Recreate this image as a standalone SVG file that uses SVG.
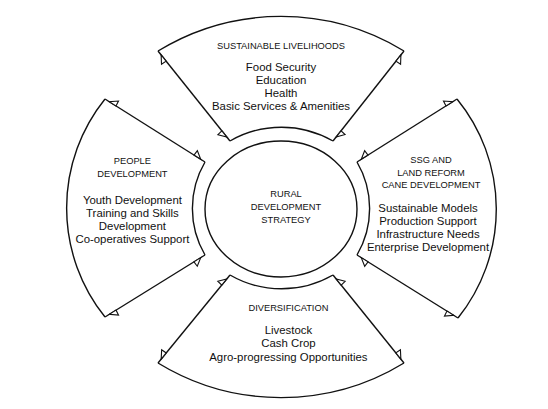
<svg xmlns="http://www.w3.org/2000/svg" width="548" height="409" viewBox="0 0 548 409">
  <style>
    .shape { fill: none; stroke: #111; stroke-width: 1.4; }
    .edge { fill: none; stroke: #111; stroke-width: 1.4; }
    .title { font-family: "Liberation Sans", Arial, sans-serif; font-size: 9.3px; fill: #111; text-anchor: middle; }
    .item { font-family: "Liberation Sans", Arial, sans-serif; font-size: 11.4px; fill: #111; text-anchor: middle; }
  </style>
  <defs>
    <marker id="hs" markerUnits="userSpaceOnUse" orient="auto" refX="0" refY="0" markerWidth="20" markerHeight="20" overflow="visible">
      <path d="M5,0 L13,0 L12.5,-5.5 Z" fill="#fff" stroke="#111" stroke-width="1.1" stroke-linejoin="miter"/>
    </marker>
    <marker id="he" markerUnits="userSpaceOnUse" orient="auto" refX="0" refY="0" markerWidth="20" markerHeight="20" overflow="visible">
      <path d="M-5,0 L-13,0 L-12.5,-5.5 Z" fill="#fff" stroke="#111" stroke-width="1.1" stroke-linejoin="miter"/>
    </marker>
  </defs>
  <rect width="548" height="409" fill="#fff"/>

  <g id="sustainable-livelihoods">
    <path class="shape" d="M158,51 A236,236 0 0 1 404,51 M333,141 A103,103 0 0 0 230,141"/>
    <text class="title" x="281" y="49.3">SUSTAINABLE LIVELIHOODS</text>
    <text class="item" x="281" y="70.8">Food Security</text>
    <text class="item" x="281" y="84">Education</text>
    <text class="item" x="281" y="97">Health</text>
    <text class="item" x="281" y="110">Basic Services &amp; Amenities</text>
  </g>

  <g id="people-development">
    <path class="shape" d="M105,317 A174,174 0 0 1 105,99 M205,162 A92,92 0 0 0 205,255"/>
    <text class="title" x="132.4" y="164.3">PEOPLE</text>
    <text class="title" x="132.4" y="177.3">DEVELOPMENT</text>
    <text class="item" x="132.4" y="204.2">Youth Development</text>
    <text class="item" x="132.4" y="217.3">Training and Skills</text>
    <text class="item" x="132.4" y="230.4">Development</text>
    <text class="item" x="132.4" y="243.3">Co-operatives Support</text>
  </g>

  <g id="ssg-land-reform">
    <path class="shape" d="M457,99 A174,174 0 0 1 458,318 M357,255 A92,92 0 0 0 357,162"/>
    <text class="title" x="431" y="162.7">SSG AND</text>
    <text class="title" x="431" y="175.5">LAND REFORM</text>
    <text class="title" x="431" y="188.3">CANE DEVELOPMENT</text>
    <text class="item" x="428" y="212.2">Sustainable Models</text>
    <text class="item" x="428" y="225">Production Support</text>
    <text class="item" x="428" y="238">Infrastructure Needs</text>
    <text class="item" x="428" y="250.8">Enterprise Development</text>
  </g>

  <g id="diversification">
    <path class="shape" d="M404,363 A236,236 0 0 1 158,363 M230,275 A103,103 0 0 0 333,275"/>
    <text class="title" x="288.4" y="311">DIVERSIFICATION</text>
    <text class="item" x="288.4" y="334.2">Livestock</text>
    <text class="item" x="288.4" y="347.4">Cash Crop</text>
    <text class="item" x="288.4" y="360.5">Agro-progressing Opportunities</text>
  </g>

  <g id="rural-development-strategy">
    <ellipse class="shape" cx="281" cy="209" rx="76" ry="68"/>
    <text class="title" x="286" y="196.7">RURAL</text>
    <text class="title" x="286" y="210">DEVELOPMENT</text>
    <text class="title" x="286" y="223.3">STRATEGY</text>
  </g>

  <g id="connectors">
    <line class="edge" x1="404" y1="51" x2="333" y2="141" marker-start="url(#hs)" marker-end="url(#he)"/>
    <line class="edge" x1="230" y1="141" x2="158" y2="51" marker-start="url(#hs)" marker-end="url(#he)"/>
    <line class="edge" x1="105" y1="99" x2="205" y2="162" marker-start="url(#hs)" marker-end="url(#he)"/>
    <line class="edge" x1="205" y1="255" x2="105" y2="317" marker-start="url(#hs)" marker-end="url(#he)"/>
    <line class="edge" x1="458" y1="318" x2="357" y2="255" marker-start="url(#hs)" marker-end="url(#he)"/>
    <line class="edge" x1="357" y1="162" x2="457" y2="99" marker-start="url(#hs)" marker-end="url(#he)"/>
    <line class="edge" x1="158" y1="363" x2="230" y2="275" marker-start="url(#hs)" marker-end="url(#he)"/>
    <line class="edge" x1="333" y1="275" x2="404" y2="363" marker-start="url(#hs)" marker-end="url(#he)"/>
  </g>
</svg>
